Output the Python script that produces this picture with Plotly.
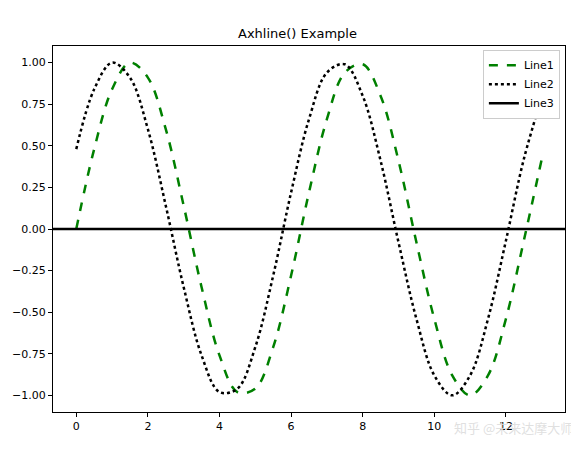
import plotly.graph_objects as go

x = [0, 0.5, 1, 1.5, 2, 2.5, 3, 3.5, 4, 4.5, 5, 5.5, 6, 6.5, 7, 7.5, 8, 8.5, 9,
     9.5, 10, 10.5, 11, 11.5, 12, 12.5, 13]
line1 = [0, 0.48, 0.84, 1.0, 0.91, 0.6, 0.14, -0.35, -0.76, -0.98, -0.96, -0.71, -0.28,
         0.22, 0.66, 0.94, 0.99, 0.80, 0.41, -0.08, -0.54, -0.88, -1.0, -0.88, -0.54, -0.07, 0.42]
line2 = [0.48, 0.84, 1.0, 0.91, 0.6, 0.14, -0.35, -0.76, -0.98, -0.96, -0.71, -0.28, 0.22,
         0.66, 0.94, 0.99, 0.80, 0.41, -0.08, -0.54, -0.88, -1.0, -0.88, -0.54, -0.07, 0.42, 0.79]
hline_y = 0

fig = go.Figure()
fig.add_trace(go.Scatter(x=x, y=line1, mode="lines", name="Line1",
                         line=dict(color="green", width=2.5, dash="dash", shape="spline")))
fig.add_trace(go.Scatter(x=x, y=line2, mode="lines", name="Line2",
                         line=dict(color="black", width=2.5, dash="dot", shape="spline")))
# line3 only for legend, the actual line is a shape across the axes
fig.add_trace(go.Scatter(x=[None], y=[None], mode="lines", name="Line3",
                         line=dict(color="black", width=2.5)))
fig.add_shape(type="line", xref="paper", yref="y", x0=0, x1=1, y0=hline_y, y1=hline_y,
              line=dict(color="black", width=2.5))

ax = dict(showgrid=False, zeroline=False, showline=True, mirror=True, linecolor="black",
          ticks="outside", ticklen=4, tickcolor="black", automargin=False)
fig.update_xaxes(range=[-0.65, 13.65], tickvals=[0, 2, 4, 6, 8, 10, 12], **ax)
fig.update_yaxes(range=[-1.1, 1.1], tickvals=[-1, -0.75, -0.5, -0.25, 0, 0.25, 0.5, 0.75, 1],
                 tickformat=".2f", **ax)

fig.add_annotation(text="知乎 @未来达摩大师", xref="paper", yref="paper", x=1.02, y=-0.075,
                   xanchor="right", showarrow=False,
                   font=dict(size=13, color="rgba(220,220,220,0.9)", family="Noto Sans CJK SC"))

fig.update_layout(width=579, height=454, plot_bgcolor="white", paper_bgcolor="white",
                  margin=dict(l=45, r=22, t=38, b=50, autoexpand=False),
                  title=dict(text="Axhline() Example", x=0.5, xanchor="center", y=0.955,
                             font=dict(size=13, color="black")),
                  font=dict(family="DejaVu Sans", size=11, color="black"),
                  showlegend=True,
                  legend=dict(x=0.99, y=0.99, xanchor="right", yanchor="top",
                              bordercolor="#cccccc", borderwidth=1, bgcolor="white"))

fig.write_html("out.html")
